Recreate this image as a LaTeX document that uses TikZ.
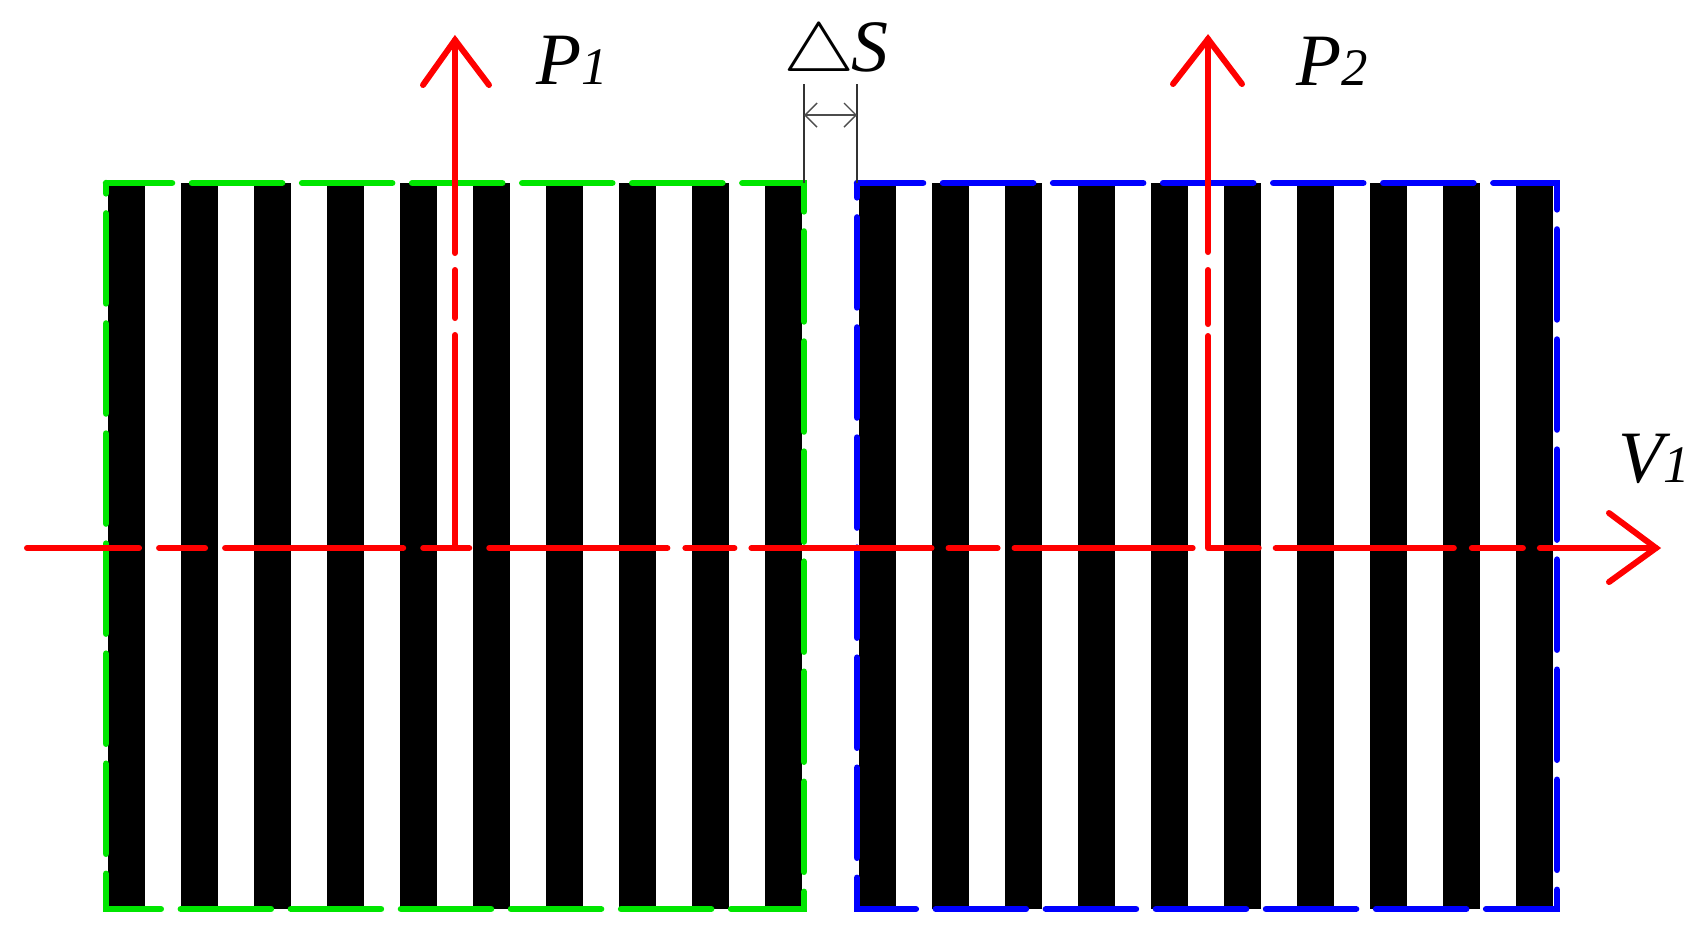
\documentclass[tikz,border=0pt]{standalone}
\usepackage{fontspec}
\setmainfont{Liberation Serif}
\usetikzlibrary{arrows.meta}
\definecolor{gr}{RGB}{0,230,0}
\definecolor{bl}{RGB}{0,0,255}
\definecolor{rd}{RGB}{255,0,0}
\tikzset{
  boxline/.style={line width=0.065cm, line cap=round, dash pattern=on 0.9cm off 0.2cm, dash phase=0.24cm},
  redline/.style={rd, line width=0.06cm, line cap=round},
  lbl/.style={font=\fontsize{21}{21}\selectfont\itshape, inner sep=0pt},
}
\newcommand{\sub}[1]{{\fontsize{15}{15}\selectfont #1}}
\begin{document}
\begin{tikzpicture}[x=0.01cm,y=-0.01cm]
\useasboundingbox (0,0) rectangle (1700,941);
% bars left
\foreach \i in {0,...,9} {
  \pgfmathsetmacro{\xa}{max(106,108+73*\i)}
  \pgfmathsetmacro{\xb}{min(804,145+73*\i)}
  \fill[black] (\xa,183) rectangle (\xb,909);
}
\foreach \i in {0,...,9} {
  \pgfmathsetmacro{\xa}{max(857,859+73*\i)}
  \pgfmathsetmacro{\xb}{min(1557,896+73*\i)}
  \fill[black] (\xa,183) rectangle (\xb,909);
}
% boxes
\draw[boxline, gr] (106,183) -- (804,183) -- (804,909) -- (106,909) -- cycle;
\draw[boxline, bl] (857,183) -- (1557,183) -- (1557,909) -- (857,909) -- cycle;
% axis
\coordinate (a0) at (27,548);
\coordinate (a1) at (1656,548);
\draw[redline, dash pattern=on 1.12cm off 0.2cm on 0.46cm off 0.2cm on 1.78cm off 0.2cm on 0.46cm off 0.2cm on 1.78cm off 0.18cm on 0.49cm off 0.17cm on 1.8cm off 0.17cm on 0.49cm off 0.17cm on 1.78cm off 0.17cm on 0.49cm off 0.17cm on 1.78cm off 0.18cm on 0.51cm off 0.17cm on 1.78cm off 0.2cm on 0.49cm off 0.18cm on 1.2cm] (a0) -- (a1);
\draw[redline] (1609,513) -- (a1) -- (1609,582);
% P1 arrow
\coordinate (p1t) at (455,40);
\draw[redline] (455,548) -- (455,335);
\draw[redline] (455,318) -- (455,270);
\draw[redline] (455,253) -- (p1t);
\draw[redline] (423,85) -- (p1t) -- (489,85);
% P2 arrow
\coordinate (p2t) at (1208,39);
\draw[redline] (1208,548) -- (1208,336);
\draw[redline] (1208,324) -- (1208,270);
\draw[redline] (1208,252) -- (p2t);
\draw[redline] (1173,84) -- (p2t) -- (1242,84);
% Delta S
\coordinate (d0) at (804,84);
\coordinate (d1) at (857,84);
\draw[black!80, line width=0.4pt] (d0) -- (804,183);
\draw[black!80, line width=0.4pt] (d1) -- (857,183);
\draw[black!70, line width=0.4pt, {Straight Barb[length=1.2mm]}-{Straight Barb[length=1.2mm]}] (804,115) -- (857,115);
% labels
\node[lbl, anchor=base] (dS) at (836,71) {\raisebox{0pt}{\scalebox{1.1}[0.95]{$\triangle$}}\kern-1pt S};
\node[lbl] (P1) at (572,60) {P\sub{1}};
\node[lbl] (P2) at (1332,61) {P\sub{2}};
\node[lbl] (V1) at (1654,459) {V\sub{1}};
\end{tikzpicture}
\end{document}
